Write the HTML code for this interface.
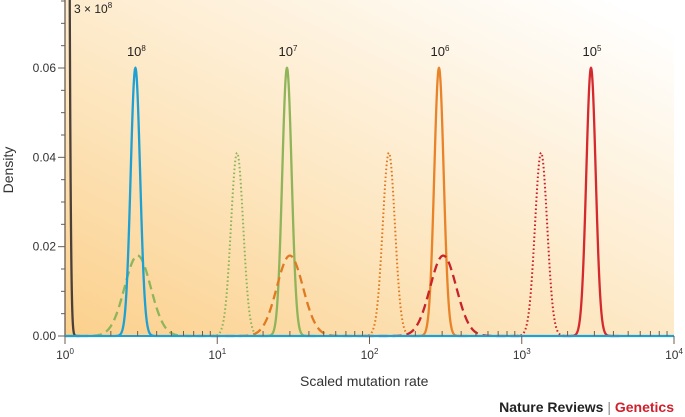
<!DOCTYPE html>
<html><head><meta charset="utf-8"><style>
body{margin:0;background:#fff;width:685px;height:417px;overflow:hidden}
svg{display:block;font-family:"Liberation Sans",sans-serif}
</style></head><body>
<svg id="c" width="685" height="417">
<defs>
<linearGradient id="bg" x1="0" y1="1" x2="0.9" y2="0">
<stop offset="0" stop-color="#fbd08c"/>
<stop offset="0.45" stop-color="#fde7c2"/>
<stop offset="1" stop-color="#ffffff"/>
</linearGradient>
<clipPath id="clip"><rect x="65" y="0" width="609" height="340"/></clipPath>
</defs>
<rect x="65" y="0" width="609" height="336" fill="url(#bg)"/>
<g id="curves" clip-path="url(#clip)"></g>
<g id="axes"></g>
<text x="300" y="386" font-size="14" fill="#333">Scaled mutation rate</text>
<text transform="translate(13,170) rotate(-90)" text-anchor="middle" font-size="14" fill="#333">Density</text>
<text x="674" y="412" text-anchor="end" font-size="14" font-weight="bold"><tspan fill="#222">Nature Reviews</tspan><tspan fill="#888" font-weight="normal"> | </tspan><tspan fill="#d0202e">Genetics</tspan></text>
</svg>
<script>
const centers = [1.0, 3.0, 13.5, 28.7, 30, 134, 286, 305, 1340, 2850, 2.9];
const peaks = [0.5, 0.018, 0.041, 0.06, 0.018, 0.041, 0.06, 0.018, 0.041, 0.06, 0.06];
const sigmas = [0.016, 0.086, 0.04, 0.031, 0.086, 0.04, 0.031, 0.086, 0.04, 0.031, 0.031];
const colors = ["#4a4039","#8fb45a","#8fb45a","#8fb45a","#e07a22","#e07a22","#e8832a","#c8222a","#c8222a","#d42a2e","#1ea0d2"];
const styles = ["solid","dash","dot","solid","dash","dot","solid","dash","dot","solid","solid"];
const curveNames = ["curve-3e8","curve-dashed-green","curve-dotted-green","curve-1e7","curve-dashed-orange","curve-dotted-orange","curve-1e6","curve-dashed-red","curve-dotted-red","curve-1e5","curve-1e8"];
const peakLabels = ["10","10","10","10"];
const peakExps = ["8","7","6","5"];
const peakLabelAt = [2.9, 28.7, 286, 2850];
const yTicks = [0, 0.02, 0.04, 0.06];
const xTicks = [0,1,2,3,4];

const NS="http://www.w3.org/2000/svg";
const X0=65,X1=674,Y0=336,Y1=68;
const xs=v=>X0+Math.log10(v)/4*(X1-X0);
const xl=l=>X0+l/4*(X1-X0);
const ys=d=>Y0-d/0.06*(Y0-Y1);
function mk(t,a,p){const e=document.createElementNS(NS,t);for(const k in a)e.setAttribute(k,a[k]);p.appendChild(e);return e;}
const cg=document.getElementById('curves'), ag=document.getElementById('axes'), svg=document.getElementById('c');

for(let i=0;i<centers.length;i++){
  const c=Math.log10(centers[i]); let pts=[];
  const lo=Math.max(0,c-6*sigmas[i]), hi=c+6*sigmas[i];
  if(i===10){pts.push([0,0]);}
  for(let k=0;k<=300;k++){const l=lo+(hi-lo)*k/300;const d=peaks[i]*Math.exp(-0.5*Math.pow((l-c)/sigmas[i],2));pts.push([l,d]);}
  if(i===10){pts.push([4,0]);}
  const dstr=pts.map((p,k)=>(k?'L':'M')+xl(p[0]).toFixed(2)+','+ys(p[1]).toFixed(2)).join('');
  const a={d:dstr,fill:'none',stroke:colors[i],'stroke-width':styles[i]==='dot'?2:2.3};
  if(styles[i]==='dash')a['stroke-dasharray']='9,5';
  if(styles[i]==='dot'){a['stroke-dasharray']='1.6,2.4';}
  const el=mk('path',a,cg);
  
  
}
const ax=mk('path',{d:`M${X0},0L${X0},${Y0}L${X1},${Y0}`,fill:'none',stroke:'#6b5d52','stroke-width':1.3},ag);


mk('line',{x1:X0,y1:Y0,x2:X1,y2:Y0,stroke:'#1ea0d2','stroke-width':2},ag);
for(let v=0;v<=0.0751;v+=0.005){const y=ys(v);mk('line',{x1:X0-(Math.abs(v/0.02-Math.round(v/0.02))<1e-6?7:4),y1:y,x2:X0,y2:y,stroke:'#6b5d52','stroke-width':1},ag);}
yTicks.forEach(v=>{const t=mk('text',{x:X0-9,y:ys(v)+4,'text-anchor':'end','font-size':12,fill:'#333'},ag);t.textContent=v.toFixed(2);

});
xTicks.forEach(e=>{const x=xl(e);mk('line',{x1:x,y1:Y0,x2:x,y2:Y0+8,stroke:'#6b5d52','stroke-width':1},ag);
 const t=mk('text',{x:x,y:Y0+23,'text-anchor':'middle','font-size':12,fill:'#333'},ag);t.innerHTML='10<tspan font-size="8" dy="-5">'+e+'</tspan>';
 
 
 if(e<4)for(let m=2;m<=9;m++){const xm=xl(e+Math.log10(m));mk('line',{x1:xm,y1:Y0-5,x2:xm,y2:Y0,stroke:'#6b5d52','stroke-width':1},ag);}
});
peakLabelAt.forEach((v,i)=>{const t=mk('text',{x:xs(v)+1,y:56,'text-anchor':'middle','font-size':13,fill:'#222'},svg);t.innerHTML=peakLabels[i]+'<tspan font-size="8" dy="-5">'+peakExps[i]+'</tspan>';
 
 });
const t3=mk('text',{x:74,y:13,'font-size':12,fill:'#222'},svg);t3.innerHTML='3 × 10<tspan font-size="8" dy="-5">8</tspan>';


</script>
</body></html>
